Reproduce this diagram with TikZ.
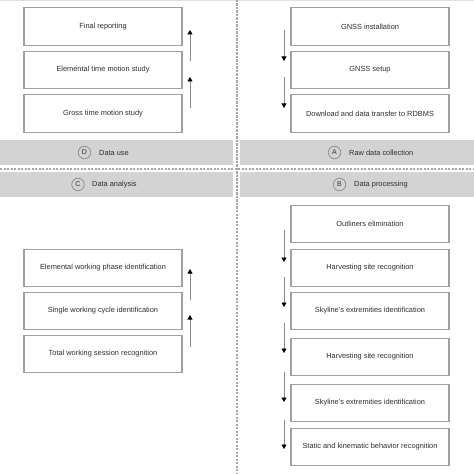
\documentclass[tikz,border=0pt]{standalone}
\usepackage{fontspec}
\setmainfont{Liberation Sans}
\usetikzlibrary{arrows.meta}
\definecolor{txt}{HTML}{2E2E2E}
\definecolor{boxline}{HTML}{A0A0A0}
\definecolor{band}{HTML}{D3D3D3}
\definecolor{dashc}{HTML}{A6A6A6}
\definecolor{shaft}{HTML}{8A8A8A}
\tikzset{
  stepbox/.style={draw=boxline, line width=1.1bp, fill=white, minimum width=158bp, minimum height=37.5bp,
     inner sep=0pt, text=txt, font=\fontsize{7.4bp}{9bp}\selectfont},
  letter/.style={circle, draw=shaft, line width=0.7bp, minimum size=12.5bp, inner sep=0pt, text=txt,
     font=\fontsize{7bp}{8bp}\selectfont},
  bandtxt/.style={anchor=west, inner sep=0pt, text=txt, font=\fontsize{7.4bp}{9bp}\selectfont},
  sep/.style={draw=dashc, line width=1.3bp, dash pattern=on 2.2bp off 1.3bp},
  arr/.style={draw=shaft, line width=0.9bp, -{Triangle[width=5bp,length=4.5bp,color=black]}}
}
\begin{document}
\begin{tikzpicture}[x=1bp,y=-1bp]
\useasboundingbox (0,0) rectangle (474,474);
\fill[white] (0,0) rectangle (474,474);
\draw[draw=black!12, line width=1bp] (0,0.5) -- (474,0.5);
% bands
\fill[band] (0,140) rectangle (233,165);
\fill[band] (240,140) rectangle (474,165);
\fill[band] (0,172) rectangle (233,197);
\fill[band] (240,172) rectangle (474,197);
% separators
\coordinate (vt) at (237,0);
\coordinate (vb) at (237,474);
\coordinate (hl) at (0,169);
\coordinate (hr) at (474,169);
\draw[sep] (vt) -- (vb);
\draw[sep] (hl) -- (hr);
% band labels
\node[letter] (cD) at (84.5,152.5) {D};
\node[bandtxt] (tD) at (99,152.5) {Data use};
\node[letter] (cA) at (334.5,152.5) {A};
\node[bandtxt] (tA) at (349,152.5) {Raw data collection};
\node[letter] (cC) at (78,184.5) {C};
\node[bandtxt] (tC) at (92,184.5) {Data analysis};
\node[letter] (cB) at (339.5,184.5) {B};
\node[bandtxt] (tB) at (354,184.5) {Data processing};
% D column
\node[stepbox] (d1) at (103,26.5) {Final reporting};
\node[stepbox] (d2) at (103,70) {Elemental time motion study};
\node[stepbox] (d3) at (103,113.5) {Gross time motion study};
% A column
\node[stepbox] (a1) at (370,26.5) {GNSS installation};
\node[stepbox] (a2) at (370,70) {GNSS setup};
\node[stepbox] (a3) at (370,113.5) {Download and data transfer to RDBMS};
% C column
\node[stepbox] (c1) at (103,268) {Elemental working phase identification};
\node[stepbox] (c2) at (103,311) {Single working cycle identification};
\node[stepbox] (c3) at (103,354) {Total working session recognition};
% B column
\node[stepbox] (b1) at (370,224) {Outliners elimination};
\node[stepbox] (b2) at (370,268) {Harvesting site recognition};
\node[stepbox] (b3) at (370,311) {Skyline's extremities identification};
\node[stepbox] (b4) at (370,357) {Harvesting site recognition};
\node[stepbox] (b5) at (370,403) {Skyline's extremities identification};
\node[stepbox] (b6) at (370,447) {Static and kinematic behavior recognition};
% arrows D (upwards)
\draw[arr] (190,61) -- (190,30);
\draw[arr] (190,108) -- (190,77);
% arrows A (downwards)
\draw[arr] (284,30) -- (284,61);
\draw[arr] (284,77) -- (284,108);
% arrows C (upwards)
\draw[arr] (190,300) -- (190,269);
\draw[arr] (190,347) -- (190,315);
% arrows B (downwards)
\draw[arr] (284,230) -- (284,262);
\draw[arr] (284,277) -- (284,307);
\draw[arr] (284,323) -- (284,353);
\draw[arr] (284,372) -- (284,402);
\draw[arr] (284,420) -- (284,449);
\end{tikzpicture}
\end{document}
